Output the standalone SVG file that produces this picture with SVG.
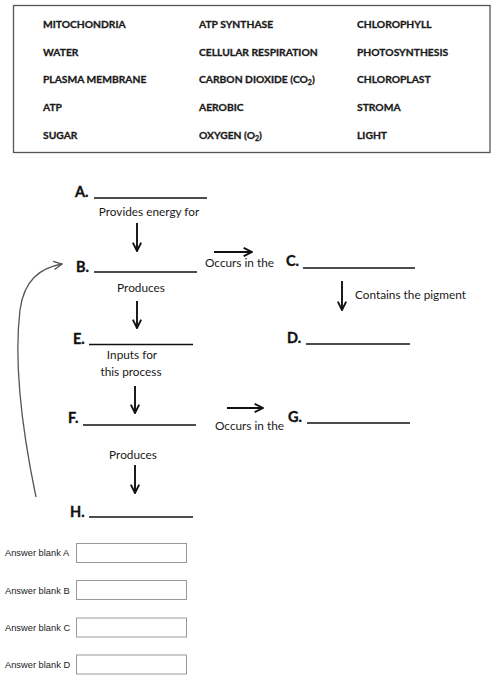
<svg xmlns="http://www.w3.org/2000/svg" width="495" height="679" viewBox="0 0 495 679">
<defs>
<style>
.bank{font-family:Lato,"Open Sans","Liberation Sans",sans-serif;font-weight:bold;font-size:10.3px;fill:#1a1a1a;stroke:#1a1a1a;stroke-width:0.3}
.lbl{font-family:Lato,"Open Sans","Liberation Sans",sans-serif;font-weight:bold;font-size:14.5px;fill:#111;stroke:#111;stroke-width:0.35}
.txt{font-family:Lato,"Open Sans","Liberation Sans",sans-serif;font-size:11.8px;fill:#1a1a1a}
.ans{font-family:"Liberation Sans",Arial,sans-serif;font-size:9.3px;fill:#222}
.blank{stroke:#111;stroke-width:1.4}
.arr{stroke:#111;stroke-width:1.9;fill:none;marker-end:url(#ah)}
.box{fill:#fff;stroke:#9a9a9a;stroke-width:1}
</style>
<marker id="ah" viewBox="0 0 10 10" refX="9" refY="5" markerWidth="5.5" markerHeight="5.5" orient="auto" markerUnits="strokeWidth">
<path d="M1,1 L9,5 L1,9" fill="none" stroke="#111" stroke-width="1.8"/>
</marker>
<marker id="ahg" viewBox="0 0 10 10" refX="9" refY="5" markerWidth="8" markerHeight="8" orient="auto" markerUnits="strokeWidth">
<path d="M1,1 L9,5 L1,9" fill="none" stroke="#555" stroke-width="1.3"/>
</marker>
</defs>
<rect width="495" height="679" fill="#fff"/>

<g id="word-bank">
<rect x="13.5" y="5.5" width="476.5" height="147" fill="none" stroke="#555" stroke-width="1.3"/>
<text class="bank" x="43" y="28">MITOCHONDRIA</text>
<text class="bank" x="43" y="55.5">WATER</text>
<text class="bank" x="43" y="83">PLASMA MEMBRANE</text>
<text class="bank" x="43" y="111">ATP</text>
<text class="bank" x="43" y="139">SUGAR</text>
<text class="bank" x="199" y="28">ATP SYNTHASE</text>
<text class="bank" x="199" y="55.5">CELLULAR RESPIRATION</text>
<text class="bank" x="199" y="83">CARBON DIOXIDE (CO<tspan font-size="7" dy="2">2</tspan><tspan dy="-2">)</tspan></text>
<text class="bank" x="199" y="111">AEROBIC</text>
<text class="bank" x="199" y="139">OXYGEN (O<tspan font-size="7" dy="2">2</tspan><tspan dy="-2">)</tspan></text>
<text class="bank" x="357" y="28">CHLOROPHYLL</text>
<text class="bank" x="357" y="55.5">PHOTOSYNTHESIS</text>
<text class="bank" x="357" y="83">CHLOROPLAST</text>
<text class="bank" x="357" y="111">STROMA</text>
<text class="bank" x="357" y="139">LIGHT</text>
</g>

<g id="node-A">
<text class="lbl" x="75" y="197">A.</text>
<line class="blank" x1="94" y1="198" x2="207" y2="198"/>
</g>
<g id="node-B">
<text class="lbl" x="76" y="271.5">B.</text>
<line class="blank" x1="94" y1="272" x2="197" y2="272"/>
</g>
<g id="node-C">
<text class="lbl" x="286" y="266">C.</text>
<line class="blank" x1="303" y1="268" x2="415" y2="268"/>
</g>
<g id="node-D">
<text class="lbl" x="287" y="342.5">D.</text>
<line class="blank" x1="306" y1="344" x2="410" y2="344"/>
</g>
<g id="node-E">
<text class="lbl" x="73" y="344">E.</text>
<line class="blank" x1="89" y1="344.5" x2="193" y2="344.5"/>
</g>
<g id="node-F">
<text class="lbl" x="68" y="423">F.</text>
<line class="blank" x1="83" y1="425" x2="196" y2="425"/>
</g>
<g id="node-G">
<text class="lbl" x="288" y="421.5">G.</text>
<line class="blank" x1="307" y1="423" x2="410" y2="423"/>
</g>
<g id="node-H">
<text class="lbl" x="70" y="516.5">H.</text>
<line class="blank" x1="89" y1="517" x2="193" y2="517"/>
</g>

<g id="connectors">
<line class="arr" x1="137" y1="223" x2="137" y2="251"/>
<line class="arr" x1="214" y1="252" x2="252" y2="252"/>
<line class="arr" x1="342" y1="281" x2="342" y2="310"/>
<line class="arr" x1="137" y1="301" x2="137" y2="328"/>
<line class="arr" x1="135" y1="386" x2="135" y2="413"/>
<line class="arr" x1="227" y1="408" x2="263" y2="408"/>
<line class="arr" x1="135" y1="465" x2="135" y2="493"/>
<path d="M36,497 C22,430 14,360 20,310 C24,280 40,268 62,264" fill="none" stroke="#555" stroke-width="1.3" marker-end="url(#ahg)"/>
<text class="txt" x="149" y="215.5" text-anchor="middle">Provides energy for</text>
<text class="txt" x="205" y="267">Occurs in the</text>
<text class="txt" x="355" y="299">Contains the pigment</text>
<text class="txt" x="141" y="292" text-anchor="middle">Produces</text>
<text class="txt" x="132" y="359" text-anchor="middle">Inputs for</text>
<text class="txt" x="131" y="376" text-anchor="middle">this process</text>
<text class="txt" x="215" y="430">Occurs in the</text>
<text class="txt" x="133" y="459" text-anchor="middle">Produces</text>
</g>

<g id="answers">
<text class="ans" x="5" y="556">Answer blank A</text>
<rect class="box" x="76.5" y="543.5" width="110" height="19"/>
<text class="ans" x="5" y="593.5">Answer blank B</text>
<rect class="box" x="76.5" y="580.5" width="110" height="19"/>
<text class="ans" x="5" y="631">Answer blank C</text>
<rect class="box" x="76.5" y="618" width="110" height="19"/>
<text class="ans" x="5" y="668">Answer blank D</text>
<rect class="box" x="76.5" y="655" width="110" height="19"/>
</g>
</svg>
